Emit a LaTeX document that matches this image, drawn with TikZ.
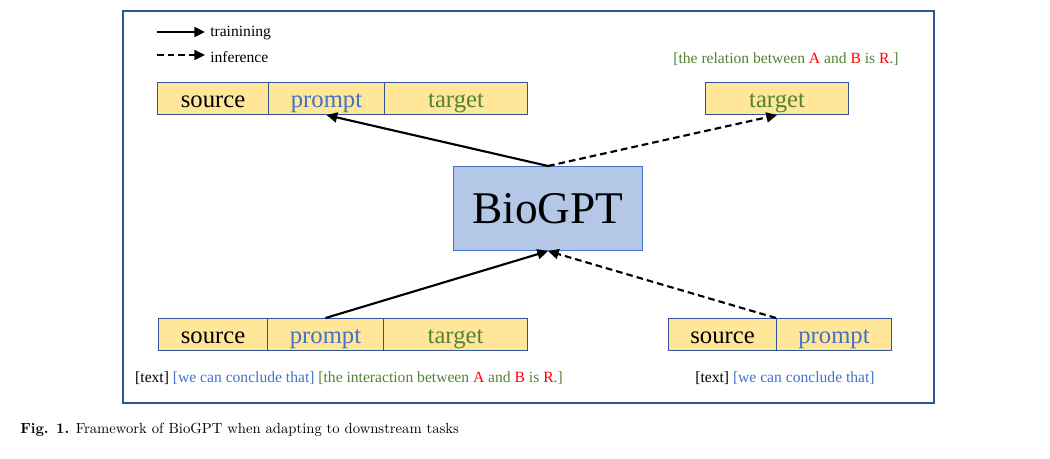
\documentclass[tikz,border=0pt]{standalone}
\usepackage{fontspec}
\setmainfont{Liberation Serif}
\newfontfamily\lmfont{Latin Modern Roman}
\usetikzlibrary{arrows.meta}
\definecolor{pblue}{HTML}{4472C4}
\definecolor{pgreen}{HTML}{548235}
\definecolor{pred}{HTML}{FF0000}
\definecolor{bfill}{HTML}{FFE699}
\definecolor{bedge}{HTML}{2F5597}
\definecolor{gfill}{HTML}{B4C7E7}
\begin{document}
\begin{tikzpicture}[x=0.75pt,y=-0.75pt,
  seg/.style={draw=bedge,fill=bfill,line width=0.8pt,minimum height=24pt,inner sep=0pt,text height=14.5pt,text depth=1.5pt,font=\fontsize{18.5}{18.5}\selectfont,anchor=north west},
  arr/.style={line width=1.6pt,-{Triangle[length=8pt,width=7.5pt]}},
  dsh/.style={arr,dash pattern=on 5pt off 3pt},
  lbl/.style={font=\fontsize{11.7}{14}\selectfont,inner sep=0pt}]
\useasboundingbox (0,0) rectangle (1050,459);
\node[draw=bedge,line width=1.2pt,minimum width=608.25pt,minimum height=294pt,inner sep=0pt,anchor=north west] (frame) at (122,10) {};
% legend
\coordinate (l1a) at (157,32); \coordinate (l1b) at (205,32);
\draw[arr] (l1a) -- (l1b);
\node[lbl,anchor=west] (ltr) at (210,33) {trainining};
\coordinate (l2a) at (157,55); \coordinate (l2b) at (205,55);
\draw[dsh] (l2a) -- (l2b);
\node[lbl,anchor=west] (linf) at (210,57) {inference};
% top left
\node[seg,minimum width=83.25pt] (ts) at (157,82) {source};
\node[seg,minimum width=87pt,text=pblue] (tp) at (268,82) {prompt};
\node[seg,minimum width=107.25pt,text=pgreen] (tt) at (384,82) {target};
% top right
\node[seg,minimum width=107.25pt,text=pgreen] (rt) at (705,82) {target};
\node[lbl,text=pgreen] (rl) at (786,59) {[the relation between \textcolor{pred}{A} and \textcolor{pred}{B} is \textcolor{pred}{R}.]};
% BioGPT
\node[draw=pblue,fill=gfill,line width=0.8pt,minimum width=141.75pt,minimum height=63pt,inner sep=0pt,anchor=north west,font=\fontsize{34}{34}\selectfont] (bio) at (453,166) {BioGPT};
% bottom left
\node[seg,minimum width=81.75pt] (bs) at (158,318) {source};
\node[seg,minimum width=87pt,text=pblue] (bp) at (267,318) {prompt};
\node[seg,minimum width=108pt,text=pgreen] (bt) at (383,318) {target};
\node[lbl] (bl) at (349,378) {[text] \textcolor{pblue}{[we can conclude that]} \textcolor{pgreen}{[the interaction between \textcolor{pred}{A} and \textcolor{pred}{B} is \textcolor{pred}{R}.]}};
% bottom right
\node[seg,minimum width=81pt] (rs) at (668,318) {source};
\node[seg,minimum width=86.25pt,text=pblue] (rp) at (776,318) {prompt};
\node[lbl] (rl2) at (785,378) {[text] \textcolor{pblue}{[we can conclude that]}};
% arrows
\draw[arr] (bio.north) -- (tp.south);
\draw[dsh] (bio.north) -- (rt.south);
\draw[arr] (bp.north) -- (bio.south);
\draw[dsh] (rp.north west) -- (bio.south);
% caption
\node[anchor=west,inner sep=0pt,font=\lmfont\fontsize{11}{13}\selectfont] (cap) at (20,430) {\textbf{Fig. 1.} Framework of BioGPT when adapting to downstream tasks};
\end{tikzpicture}
\end{document}
